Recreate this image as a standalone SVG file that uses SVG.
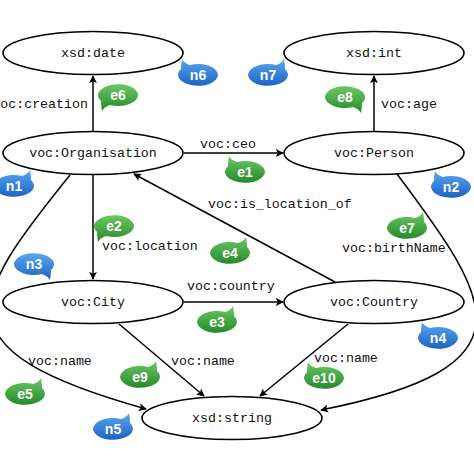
<svg xmlns="http://www.w3.org/2000/svg" xmlns:xlink="http://www.w3.org/1999/xlink" width="474" height="474" viewBox="0 0 474 474">
<style>
.node ellipse{fill:#fff;stroke:#000;stroke-width:1.6}
.nt{font-family:"Liberation Mono","Courier New",monospace;font-size:13.3px;fill:#111;text-anchor:middle}
.el{font-family:"Liberation Mono","Courier New",monospace;font-size:13.3px;fill:#111}
.edge{fill:none;stroke:#000;stroke-width:1.5;marker-end:url(#arr)}
.bt{font-family:"Liberation Sans",Arial,sans-serif;font-size:14px;font-weight:bold;fill:#fff;text-anchor:middle}
.blue{fill:url(#gb)}
.green{fill:url(#gg)}
</style>
<defs>
<marker id="arr" viewBox="0 0 10 10" refX="9" refY="5" markerWidth="8" markerHeight="8" markerUnits="userSpaceOnUse" orient="auto">
<path d="M0,0 L10,5 L0,10 L2.5,5 Z" fill="#000"/>
</marker>
<linearGradient id="gb" x1="0" y1="0" x2="0" y2="1">
<stop offset="0" stop-color="#5aa8ef"/>
<stop offset="1" stop-color="#1c63c4"/>
</linearGradient>
<linearGradient id="gg" x1="0" y1="0" x2="0" y2="1">
<stop offset="0" stop-color="#6cc865"/>
<stop offset="1" stop-color="#268a2a"/>
</linearGradient>
<path id="tr" d="M-20,0 A20,11 0 0 1 8,-10 Q14,-12 16,-16 Q17,-10 17,-6 A20,11 0 1 1 -20,0 Z"/>
<path id="tl" d="M20,0 A20,11 0 0 0 -8,-10 Q-14,-12 -16,-16 Q-17,-10 -17,-6 A20,11 0 1 0 20,0 Z"/>
<path id="br" d="M-20,0 A20,11 0 0 0 8,10 Q14,12 16,16 Q17,10 17,6 A20,11 0 1 0 -20,0 Z"/>
<path id="bl" d="M20,0 A20,11 0 0 1 -8,10 Q-14,12 -16,16 Q-17,10 -17,6 A20,11 0 1 1 20,0 Z"/>
</defs>
<rect width="474" height="474" fill="#fff"/>

<g id="connectors">
<path class="edge" d="M93,131 L93,76"/>
<path class="edge" d="M374,131 L374,76"/>
<path class="edge" d="M184,153 L283,153"/>
<path class="edge" d="M93,175 L93,279"/>
<path class="edge" d="M184,302 L283,302"/>
<path class="edge" d="M335,282 L134,174"/>
<path class="edge" d="M119,324 L204,396"/>
<path class="edge" d="M348,324 L260,396"/>
<path class="edge" d="M70,175 C-31,300 -64,350 146,409"/>
<path class="edge" d="M397,174 C493,302 537,367 321,410"/>
<text class="el" x="88" y="108" text-anchor="end">voc:creation</text>
<text class="el" x="381" y="108">voc:age</text>
<text class="el" x="200" y="148">voc:ceo</text>
<text class="el" x="208" y="208">voc:is_location_of</text>
<text class="el" x="102" y="250">voc:location</text>
<text class="el" x="342" y="252">voc:birthName</text>
<text class="el" x="187" y="290">voc:country</text>
<text class="el" x="28" y="365">voc:name</text>
<text class="el" x="171" y="365">voc:name</text>
<text class="el" x="314" y="362">voc:name</text>
</g>

<g id="xsd-date" class="node"><ellipse cx="93" cy="53" rx="90" ry="21.5"/><text class="nt" x="93" y="57">xsd:date</text></g>
<g id="xsd-int" class="node"><ellipse cx="374" cy="53" rx="90" ry="21.5"/><text class="nt" x="374" y="57">xsd:int</text></g>
<g id="voc-Organisation" class="node"><ellipse cx="93" cy="153" rx="90" ry="21.5"/><text class="nt" x="93" y="157">voc:Organisation</text></g>
<g id="voc-Person" class="node"><ellipse cx="374" cy="153" rx="90" ry="21.5"/><text class="nt" x="374" y="157">voc:Person</text></g>
<g id="voc-City" class="node"><ellipse cx="93" cy="302" rx="90" ry="21.5"/><text class="nt" x="93" y="306">voc:City</text></g>
<g id="voc-Country" class="node"><ellipse cx="374" cy="302" rx="90" ry="21.5"/><text class="nt" x="374" y="306">voc:Country</text></g>
<g id="xsd-string" class="node"><ellipse cx="232" cy="418" rx="90" ry="21.5"/><text class="nt" x="232" y="422">xsd:string</text></g>

<g id="bubbles">
<g id="n1"><use xlink:href="#tr" class="blue" x="14" y="186"/><text class="bt" x="14" y="191">n1</text></g>
<g id="n2"><use xlink:href="#tl" class="blue" x="451" y="187"/><text class="bt" x="451" y="192">n2</text></g>
<g id="n3"><use xlink:href="#br" class="blue" x="34" y="264"/><text class="bt" x="34" y="269">n3</text></g>
<g id="n4"><use xlink:href="#tl" class="blue" x="438" y="338"/><text class="bt" x="438" y="343">n4</text></g>
<g id="n5"><use xlink:href="#tr" class="blue" x="113" y="429"/><text class="bt" x="113" y="434">n5</text></g>
<g id="n6"><use xlink:href="#tl" class="blue" x="198" y="75"/><text class="bt" x="198" y="80">n6</text></g>
<g id="n7"><use xlink:href="#tr" class="blue" x="268" y="75"/><text class="bt" x="268" y="80">n7</text></g>
<g id="e1"><use xlink:href="#tl" class="green" x="245" y="172"/><text class="bt" x="245" y="177">e1</text></g>
<g id="e2"><use xlink:href="#bl" class="green" x="114" y="226"/><text class="bt" x="114" y="231">e2</text></g>
<g id="e3"><use xlink:href="#tr" class="green" x="217" y="322"/><text class="bt" x="217" y="327">e3</text></g>
<g id="e4"><use xlink:href="#tr" class="green" x="230" y="253"/><text class="bt" x="230" y="258">e4</text></g>
<g id="e5"><use xlink:href="#tr" class="green" x="25" y="394"/><text class="bt" x="25" y="399">e5</text></g>
<g id="e6"><use xlink:href="#bl" class="green" x="118" y="95"/><text class="bt" x="118" y="100">e6</text></g>
<g id="e7"><use xlink:href="#tr" class="green" x="407" y="228"/><text class="bt" x="407" y="233">e7</text></g>
<g id="e8"><use xlink:href="#br" class="green" x="345" y="97"/><text class="bt" x="345" y="102">e8</text></g>
<g id="e9"><use xlink:href="#tr" class="green" x="140" y="377"/><text class="bt" x="140" y="382">e9</text></g>
<g id="e10"><use xlink:href="#tl" class="green" x="324" y="378"/><text class="bt" x="324" y="383">e10</text></g>
</g>
</svg>
